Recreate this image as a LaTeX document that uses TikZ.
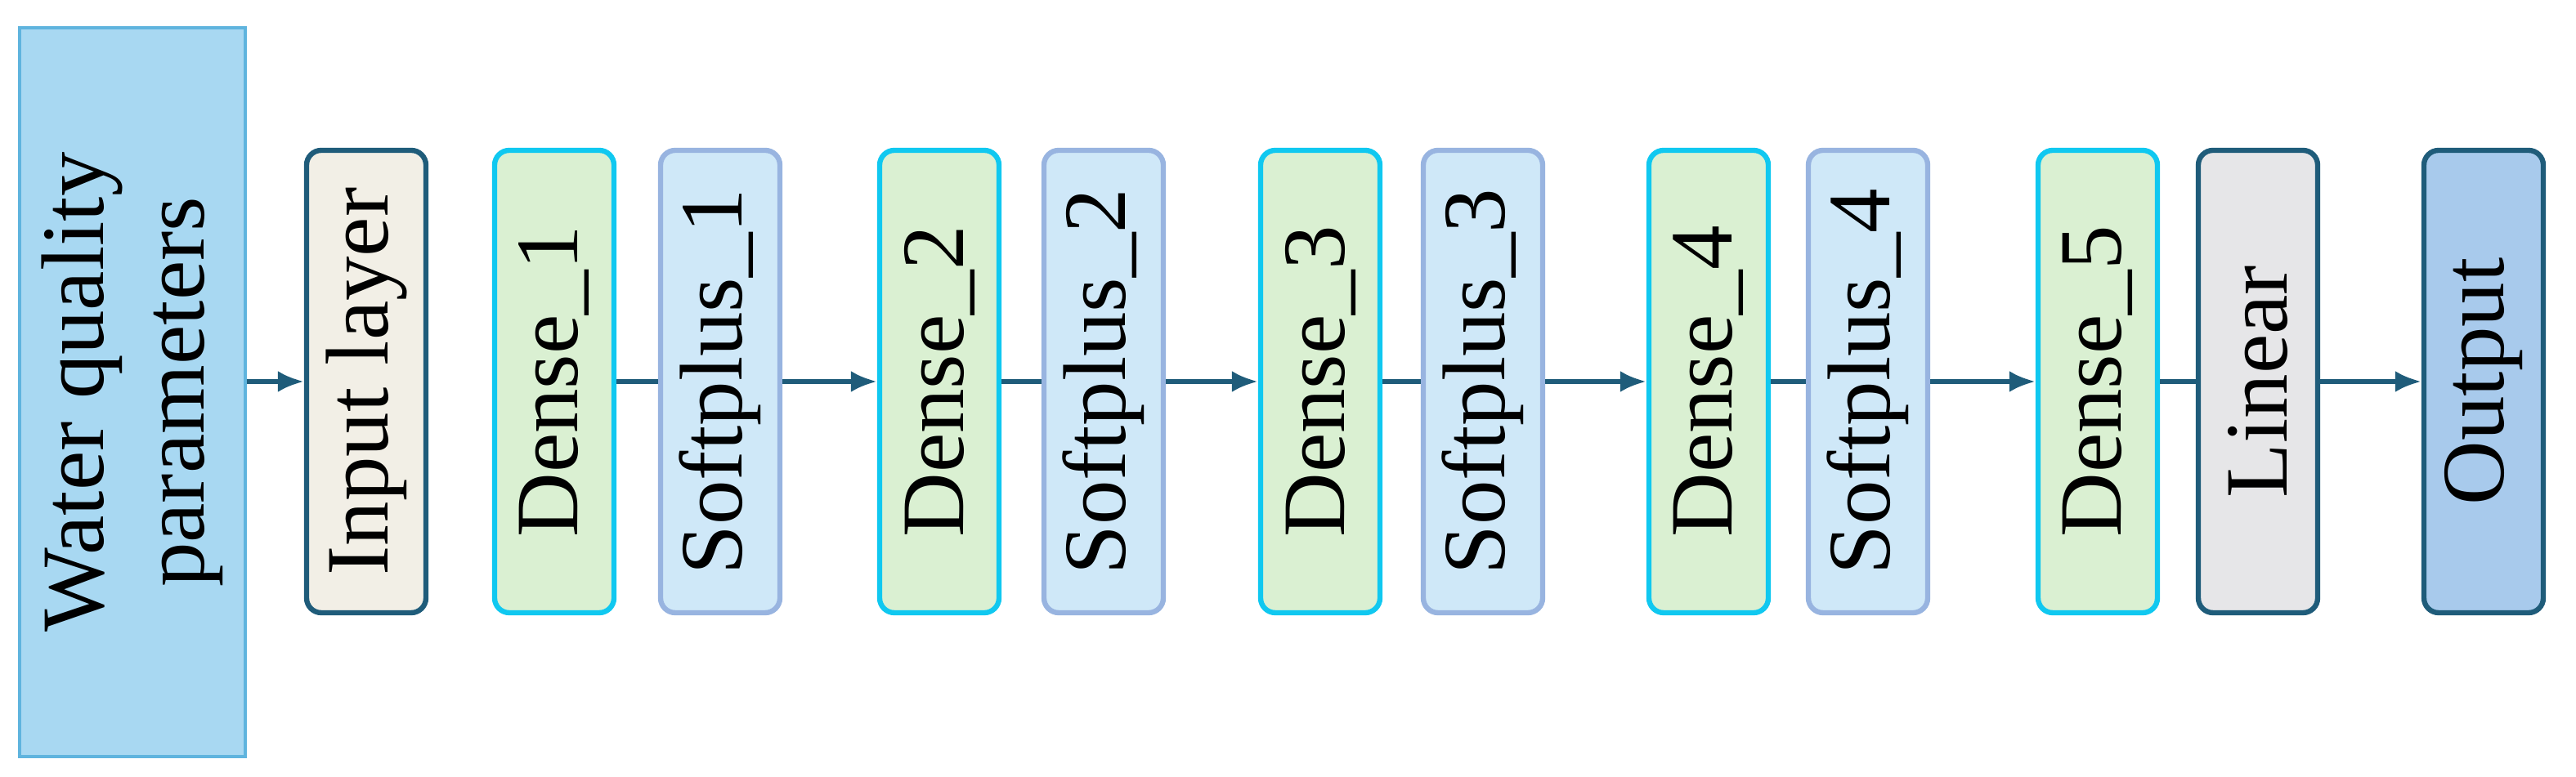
\documentclass[tikz,border=0pt]{standalone}
\usepackage{fontspec}
\setmainfont{Liberation Serif}
\usetikzlibrary{arrows.meta}
\definecolor{lineblue}{HTML}{1F5C7A}
\definecolor{waterfill}{HTML}{A8D8F2}
\definecolor{waterdraw}{HTML}{5FB4DE}
\definecolor{inputfill}{HTML}{F2EFE6}
\definecolor{densefill}{HTML}{DAF0D2}
\definecolor{densedraw}{HTML}{10C8F0}
\definecolor{softfill}{HTML}{CFE8F8}
\definecolor{softdraw}{HTML}{98B4E0}
\definecolor{linfill}{HTML}{E6E6E8}
\definecolor{outfill}{HTML}{A8CAEC}
\tikzset{
  every layer/.style={rounded corners=0.18cm, line width=1.8pt, minimum width=5.66cm,
    minimum height=1.46cm, rotate=90, inner sep=0pt, font=\fontsize{31}{35}\selectfont},
  layer input/.style={fill=inputfill, draw=lineblue},
  layer dense/.style={fill=densefill, draw=densedraw},
  layer soft/.style={fill=softfill, draw=softdraw},
  layer lin/.style={fill=linfill, draw=lineblue},
  layer out/.style={fill=outfill, draw=lineblue},
  link/.style={draw=lineblue, line width=1.6pt},
  arrow/.style={link, -{Latex[length=0.32cm, width=0.26cm]}}
}
\begin{document}
\begin{tikzpicture}[x=1cm, y=1cm]
\useasboundingbox (0,0) rectangle (31.51,9.51);

\node [fill=waterfill, draw=waterdraw, line width=1pt, minimum width=8.92cm, minimum height=2.76cm,
  rotate=90, align=center, font=\fontsize{31}{35}\selectfont, inner sep=0pt] (water) at (1.62,4.71)
  {Water quality\\parameters};

\foreach \n/\t/\s/\x in {input/Input layer/input/4.48,
    dense-1/Dense\_1/dense/6.78, soft-1/Softplus\_1/soft/8.81,
    dense-2/Dense\_2/dense/11.49, soft-2/Softplus\_2/soft/13.50,
    dense-3/Dense\_3/dense/16.15, soft-3/Softplus\_3/soft/18.14,
    dense-4/Dense\_4/dense/20.90, soft-4/Softplus\_4/soft/22.85,
    dense-5/Dense\_5/dense/25.66, lin/Linear/lin/27.62, out/Output/out/30.38}
  \node [every layer/.try, layer \s/.try] (\n) at (\x,4.84) {\t};

\draw [arrow] (input.center -| water.south) -- (input);
\foreach \i in {1,...,5}
  \draw [link] (dense-\i) -- (\ifnum\i<5 soft-\i\else lin\fi);
\foreach \i [evaluate=\i as \j using int(\i+1)] in {1,...,4}
  \draw [arrow] (soft-\i) -- (dense-\j);
\draw [arrow] (lin) -- (out);

\end{tikzpicture}
\end{document}
